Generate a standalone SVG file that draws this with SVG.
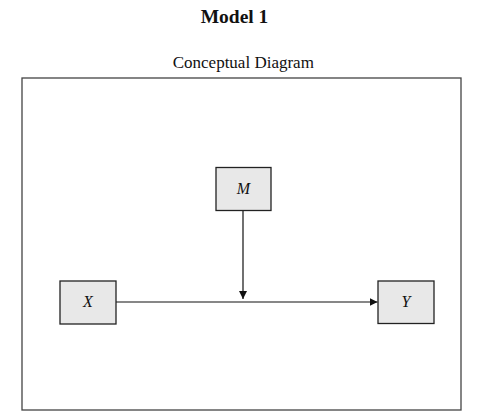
<svg xmlns="http://www.w3.org/2000/svg" width="478" height="420" viewBox="0 0 478 420">
<defs>
<marker id="arr" viewBox="0 0 10 10" refX="10" refY="5" markerWidth="8" markerHeight="8" markerUnits="userSpaceOnUse" orient="auto">
<path d="M0,0 L10,5 L0,10 z" fill="#111"/>
</marker>
<style>
.box{fill:#e8e8e8;stroke:#222;stroke-width:1.3}
.lbl{font-family:"Liberation Serif",serif;font-style:italic;font-size:16px;fill:#111;text-anchor:middle}
.edge{stroke:#111;stroke-width:1.2;fill:none;marker-end:url(#arr)}
</style>
</defs>
<rect width="478" height="420" fill="#fff"/>
<text x="234.5" y="22.7" font-family="Liberation Serif, serif" font-weight="bold" font-size="19.5" text-anchor="middle" fill="#111">Model 1</text>
<text x="243.3" y="68.3" font-family="Liberation Serif, serif" font-size="17" text-anchor="middle" fill="#111">Conceptual Diagram</text>
<rect x="22" y="78" width="439" height="332" fill="none" stroke="#444" stroke-width="1.3"/>
<g id="connectors">
<line class="edge" x1="116" y1="302" x2="377.5" y2="302"/>
<line class="edge" x1="243" y1="211" x2="243" y2="299"/>
</g>
<g id="node-M">
<rect class="box" x="216" y="167.5" width="55" height="43"/>
<text class="lbl" x="243.4" y="193.5">M</text>
</g>
<g id="node-X">
<rect class="box" x="60" y="281" width="56" height="43"/>
<text class="lbl" x="88" y="307.3">X</text>
</g>
<g id="node-Y">
<rect class="box" x="378" y="281" width="56" height="42.5"/>
<text class="lbl" x="406" y="307.3">Y</text>
</g>
</svg>
